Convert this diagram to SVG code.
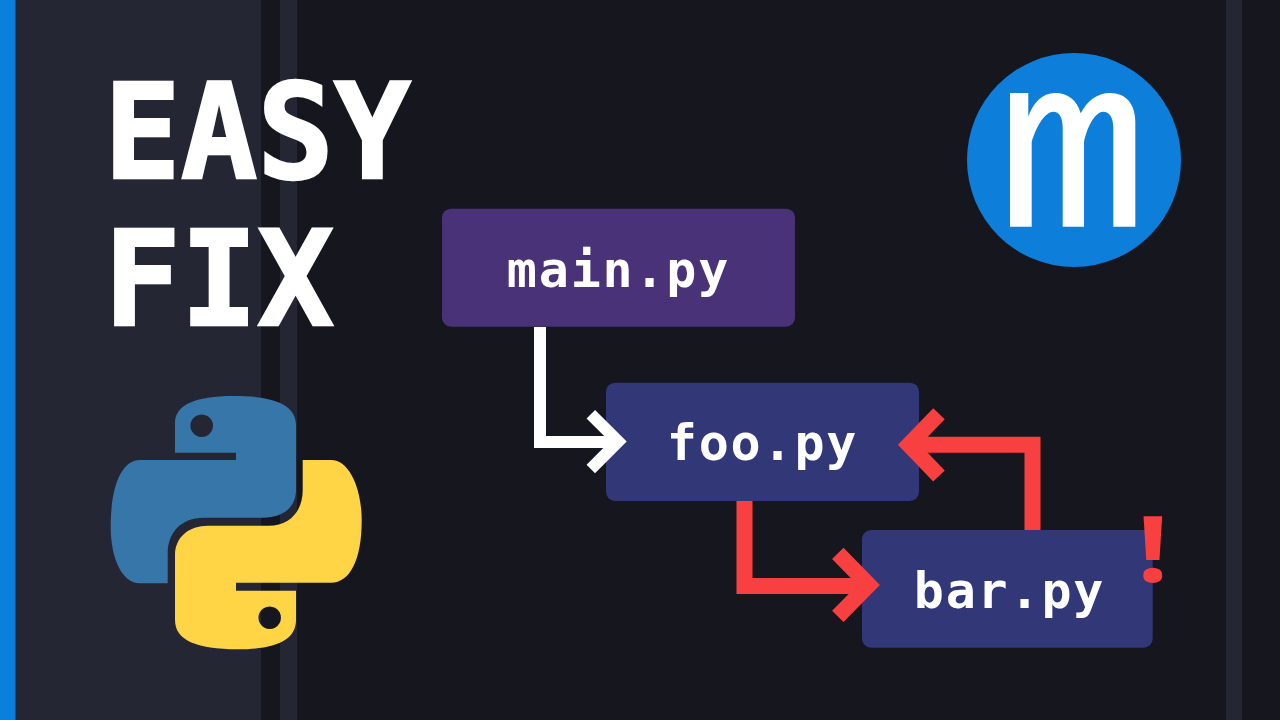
<svg xmlns="http://www.w3.org/2000/svg" width="1280" height="720" viewBox="0 0 1280 720">
<style>
.title{font-family:"DejaVu Sans Mono","Liberation Mono",monospace;font-weight:700;font-size:132px;fill:#fff;stroke:#fff;stroke-width:2.5px}
.lbl{font-family:"DejaVu Sans Mono","Liberation Mono",monospace;font-weight:700;font-size:50px;fill:#fff;text-anchor:middle;letter-spacing:1.8px}
.wire{fill:none;stroke-linejoin:miter;stroke-linecap:butt}
.w{stroke:#fff;stroke-width:12}
.r{stroke:#f94040;stroke-width:16}
</style>
<rect width="1280" height="720" fill="#16161e"/>
<rect x="0" y="0" width="297" height="720" fill="#252633"/>
<rect x="261" y="0" width="19" height="720" fill="#16161e"/>
<rect x="0" y="0" width="15.5" height="720" fill="#0a7fdc"/>
<rect x="1226" y="0" width="16" height="720" fill="#252633"/>
<text class="title" transform="translate(104 177.8) scale(.965 1)">EASY</text>
<text class="title" transform="translate(104 324.5) scale(.965 1)">FIX</text>
<g id="python-logo">
<path fill="#3776a8" fill-rule="evenodd" d="M233.3 396C275 396 296 405 296 425V490C296 508 282 517.7 263.3 517.7H203.3C182 517.7 167.7 532 167.7 553.3V583.3H140C122 583.3 110.7 558 110.7 526.7C110.7 485 122 460 140 460H236V452.7H175V423.3C175 405 195 396 233.3 396ZM201.7 414.4a11.3 11.3 0 1 0 .01 0Z"/>
<path fill="#ffd545" fill-rule="evenodd" d="M238 649.3C196 649.3 175 640 175 620V555C175 537 189 525.7 208 525.7H268.7C290 525.7 302.7 511 302.7 490V460H331C350 460 361.7 490 361.7 520C361.7 560 350 582.7 331 582.7H236V590.7H296V620C296 640 276 649.3 238 649.3ZM269.7 606.4a11.3 11.3 0 1 0 .01 0Z"/>
</g>
<g id="m-logo">
<circle cx="1074" cy="160" r="107" fill="#0d7fdb"/>
<path fill="#fff" d="M1010 93H1028.3V116.7C1033 103 1042 93 1055 93C1068 93 1077 100 1080.7 113.3C1087 101 1097 93 1110 93C1126 93 1135.3 104 1135.3 122V226.7H1113.3V128C1113.3 117 1109 111.7 1103.3 111.7C1096 111.7 1088 124 1084 141.7V226.7H1062.7V128C1062.7 117 1059 111.7 1053.3 111.7C1046 111.7 1037 124 1031.7 141.7V226.7H1010Z"/>
</g>
<g id="node-main">
<rect x="442" y="208.7" width="353" height="118" rx="9" fill="#4a3278"/>
<text class="lbl" x="618.5" y="287">main.py</text>
</g>
<g id="node-foo">
<rect x="606" y="382.7" width="313" height="118.3" rx="9" fill="#313777"/>
<text class="lbl" x="762.5" y="460">foo.py</text>
</g>
<g id="node-bar">
<rect x="862" y="530" width="290.7" height="117.7" rx="9" fill="#313777"/>
<text class="lbl" x="1009.5" y="608">bar.py</text>
</g>
<g id="connectors">
<path class="wire w" d="M540 327V442H618"/>
<path class="wire w" d="M590.8 414.2L618.2 441.6L590.8 469"/>
<path class="wire r" d="M744.5 501V586H866"/>
<path class="wire r" d="M837.8 553.3L868.7 585L837.8 616.3"/>
<path class="wire r" d="M1032.5 530V444.7H912"/>
<path class="wire r" d="M939 413.7L909 444.7L939 476"/>
</g>
<text id="alert" transform="translate(1152.7 582) scale(1.2 1)" font-family="Open Sans, sans-serif" font-weight="700" font-size="92" fill="#f94040" text-anchor="middle">!</text>
</svg>
